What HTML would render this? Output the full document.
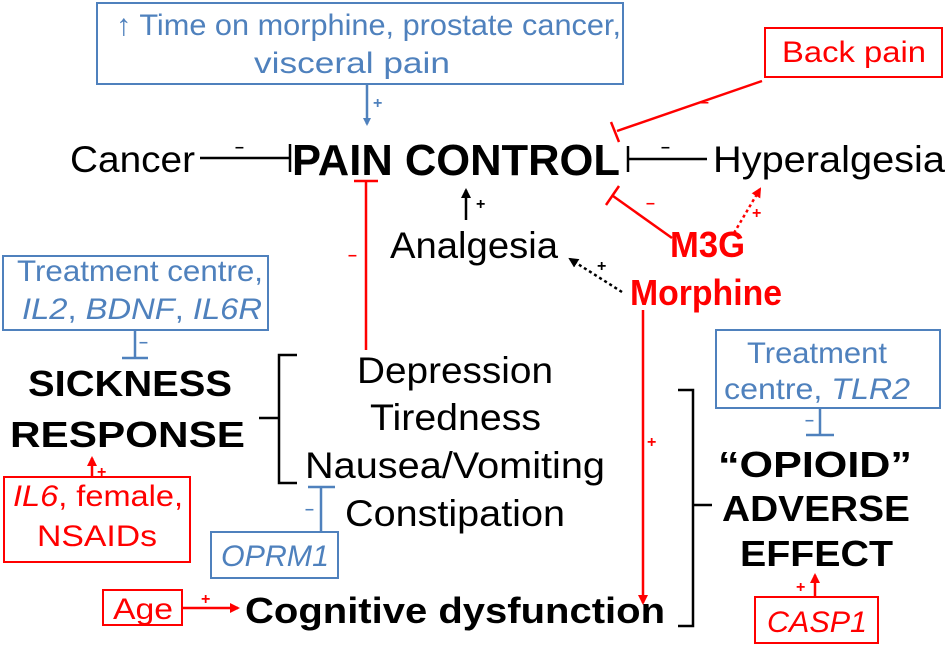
<!DOCTYPE html>
<html><head><style>body{margin:0;background:#fff}svg{display:block}text{font-family:"Liberation Sans",Arial,sans-serif}</style></head><body>
<svg width="950" height="646" viewBox="0 0 950 646" xmlns="http://www.w3.org/2000/svg">
<defs>
<marker id="ab" markerWidth="8" markerHeight="8" refX="6" refY="4" orient="auto" markerUnits="userSpaceOnUse"><path d="M0,0 L8,4 L0,8z" fill="#4F81BD"/></marker>
<marker id="ar" markerWidth="10" markerHeight="10" refX="8" refY="5" orient="auto" markerUnits="userSpaceOnUse"><path d="M0,0 L10,5 L0,10z" fill="#f00"/></marker>
<marker id="ak" markerWidth="10" markerHeight="10" refX="8" refY="5" orient="auto" markerUnits="userSpaceOnUse"><path d="M0,0 L10,5 L0,10z" fill="#000"/></marker>
</defs>
<g fill="none" stroke-width="2">
<rect x="97" y="3" width="526" height="81" stroke="#4F81BD"/>
<rect x="3" y="256" width="265" height="74" stroke="#4F81BD"/>
<rect x="211" y="532" width="127" height="46" stroke="#4F81BD"/>
<rect x="716" y="330" width="224" height="78" stroke="#4F81BD"/>
<rect x="765" y="28" width="177" height="49" stroke="#f00"/>
<rect x="4" y="477" width="186" height="85" stroke="#f00"/>
<rect x="103" y="590" width="79" height="35" stroke="#f00"/>
<rect x="755" y="597" width="123" height="46" stroke="#f00"/>
</g>
<g stroke-width="2.5">
<line x1="367" y1="85" x2="367" y2="124" stroke="#4F81BD" marker-end="url(#ab)"/>
<line x1="200" y1="158" x2="290" y2="158" stroke="#000"/><line x1="290" y1="144" x2="290" y2="172" stroke="#000"/>
<line x1="628" y1="159" x2="707" y2="159" stroke="#000"/><line x1="628" y1="146" x2="628" y2="172" stroke="#000"/>
<line x1="762" y1="81" x2="617" y2="131" stroke="#f00"/><line x1="611" y1="122" x2="619" y2="142" stroke="#f00"/>
<line x1="672" y1="238" x2="613" y2="196" stroke="#f00"/><line x1="606" y1="205" x2="619" y2="186" stroke="#f00"/>
<line x1="734" y1="233" x2="760" y2="189" stroke="#f00" stroke-dasharray="3,3" marker-end="url(#ar)"/>
<line x1="466" y1="220" x2="466" y2="190" stroke="#000" marker-end="url(#ak)"/>
<line x1="622" y1="292" x2="570" y2="259" stroke="#000" stroke-dasharray="3,3" marker-end="url(#ak)"/>
<line x1="366" y1="181" x2="366" y2="350" stroke="#f00"/><line x1="354" y1="181" x2="378" y2="181" stroke="#f00"/>
<line x1="135" y1="330" x2="135" y2="358" stroke="#4F81BD"/><line x1="122" y1="358" x2="148" y2="358" stroke="#4F81BD"/>
<path d="M297,355 H279 V483 H297 M279,418 H259" fill="none" stroke="#000"/>
<line x1="321" y1="532" x2="321" y2="487" stroke="#4F81BD"/><line x1="308" y1="487" x2="335" y2="487" stroke="#4F81BD"/>
<line x1="92" y1="477" x2="92" y2="458" stroke="#f00" marker-end="url(#ar)"/>
<line x1="182" y1="608" x2="238" y2="608" stroke="#f00" marker-end="url(#ar)"/>
<line x1="643" y1="310" x2="643" y2="603" stroke="#f00" marker-end="url(#ar)"/>
<path d="M678,390 H693 V626 H678 M693,505 H712" fill="none" stroke="#000"/>
<line x1="820" y1="408" x2="820" y2="435" stroke="#4F81BD"/><line x1="806" y1="435" x2="834" y2="435" stroke="#4F81BD"/>
<line x1="815" y1="597" x2="815" y2="575" stroke="#f00" marker-end="url(#ar)"/>
</g>
<g font-size="16" font-weight="bold">
<text x="373" y="108" fill="#4F81BD">+</text>
<text x="235" y="152" fill="#000">–</text>
<text x="661" y="152" fill="#000">–</text>
<text x="700" y="107" fill="#f00">–</text>
<text x="646" y="208" fill="#f00">–</text>
<text x="752" y="218" fill="#f00">+</text>
<text x="476" y="209" fill="#000">+</text>
<text x="597" y="271" fill="#000">+</text>
<text x="348" y="260" fill="#f00">–</text>
<text x="139" y="347" fill="#4F81BD">–</text>
<text x="305" y="514" fill="#4F81BD">–</text>
<text x="97" y="477" fill="#f00">+</text>
<text x="201" y="604" fill="#f00">+</text>
<text x="647" y="447" fill="#f00">+</text>
<text x="805" y="425" fill="#4F81BD">–</text>
<text x="796" y="592" fill="#f00">+</text>
</g>
<g font-size="30" fill="#4F81BD" lengthAdjust="spacingAndGlyphs">
<text x="116" y="35" textLength="505" lengthAdjust="spacingAndGlyphs">↑ Time on morphine, prostate cancer,</text>
<text x="254" y="73" textLength="196" lengthAdjust="spacingAndGlyphs">visceral pain</text>
<text x="17" y="281" textLength="246" lengthAdjust="spacingAndGlyphs">Treatment centre,</text>
<text x="22" y="319" textLength="240" lengthAdjust="spacingAndGlyphs"><tspan font-style="italic">IL2</tspan>, <tspan font-style="italic">BDNF</tspan>, <tspan font-style="italic">IL6R</tspan></text>
<text x="221" y="566" font-style="italic" textLength="108" lengthAdjust="spacingAndGlyphs">OPRM1</text>
<text x="747" y="363" textLength="140" lengthAdjust="spacingAndGlyphs">Treatment</text>
<text x="724" y="399" textLength="186" lengthAdjust="spacingAndGlyphs">centre, <tspan font-style="italic">TLR2</tspan></text>
</g>
<g font-size="30" fill="#f00">
<text x="782" y="62" textLength="144" lengthAdjust="spacingAndGlyphs">Back pain</text>
<text x="13" y="506" textLength="170" lengthAdjust="spacingAndGlyphs"><tspan font-style="italic">IL6</tspan>, female,</text>
<text x="37" y="546" textLength="120" lengthAdjust="spacingAndGlyphs">NSAIDs</text>
<text x="113" y="619" textLength="60" lengthAdjust="spacingAndGlyphs">Age</text>
<text x="767" y="632" font-style="italic" textLength="100" lengthAdjust="spacingAndGlyphs">CASP1</text>
</g>
<g font-size="37" fill="#000">
<text x="70" y="172" textLength="125" lengthAdjust="spacingAndGlyphs">Cancer</text>
<text x="713" y="172" textLength="232" lengthAdjust="spacingAndGlyphs">Hyperalgesia</text>
<text x="390" y="258" textLength="168" lengthAdjust="spacingAndGlyphs">Analgesia</text>
<text x="357" y="383" textLength="196" lengthAdjust="spacingAndGlyphs">Depression</text>
<text x="370" y="430" textLength="171" lengthAdjust="spacingAndGlyphs">Tiredness</text>
<text x="305" y="478" textLength="300" lengthAdjust="spacingAndGlyphs">Nausea/Vomiting</text>
<text x="345" y="526" textLength="220" lengthAdjust="spacingAndGlyphs">Constipation</text>
</g>
<text x="292" y="175" font-size="44" font-weight="bold" textLength="328" lengthAdjust="spacingAndGlyphs">PAIN CONTROL</text>
<g font-weight="bold" font-size="36">
<text x="670" y="257" fill="#f00" textLength="75" lengthAdjust="spacingAndGlyphs">M3G</text>
<text x="630" y="305" fill="#f00" textLength="152" lengthAdjust="spacingAndGlyphs">Morphine</text>
<text x="28" y="396" textLength="204" lengthAdjust="spacingAndGlyphs">SICKNESS</text>
<text x="10" y="447" textLength="235" lengthAdjust="spacingAndGlyphs">RESPONSE</text>
<text x="245" y="623" textLength="420" lengthAdjust="spacingAndGlyphs">Cognitive dysfunction</text>
<text x="718" y="477" textLength="194" lengthAdjust="spacingAndGlyphs">“OPIOID”</text>
<text x="722" y="521" textLength="188" lengthAdjust="spacingAndGlyphs">ADVERSE</text>
<text x="740" y="566" textLength="153" lengthAdjust="spacingAndGlyphs">EFFECT</text>
</g>
</svg>
</body></html>
